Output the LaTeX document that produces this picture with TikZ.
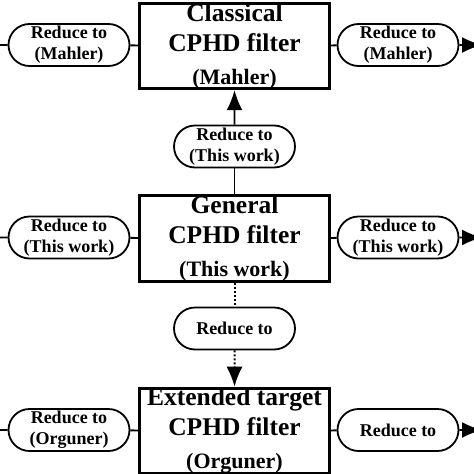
\documentclass[tikz,border=0pt]{standalone}
\usepackage{fontspec}
\setmainfont{Liberation Serif}
\usetikzlibrary{shapes.misc,arrows.meta}

\tikzset{
  filterbox/.style={draw,line width=3pt,rectangle,minimum width=190pt,minimum height=82pt,
    inner sep=0pt,align=center,font=\bfseries\fontsize{25.5}{30}\selectfont},
  reducepill/.style={draw,line width=1.8pt,rounded rectangle,minimum width=121pt,minimum height=42pt,
    inner sep=0pt,align=center,font=\bfseries\fontsize{18}{21}\selectfont},
  link/.style={line width=1.8pt},
  dotlink/.style={line width=2pt,dash pattern=on 2pt off 2pt},
  bighead/.style={-{Latex[length=20pt,width=16pt]}}
}

\begin{document}
\begin{tikzpicture}[x=1pt,y=-1pt]
  \useasboundingbox (0,0) rectangle (474,474);

  % filters
  \node[filterbox] (classical) at (234.5,46) {Classical\\CPHD filter\\[3pt]{\fontsize{22}{26}\selectfont(Mahler)}};
  \node[filterbox] (general) at (234.5,238.5) {General\\CPHD filter\\[3pt]{\fontsize{22}{26}\selectfont(This work)}};
  \node[filterbox] (extended) at (234.5,431) {Extended target\\CPHD filter\\[3pt]{\fontsize{22}{26}\selectfont(Orguner)}};

  % reduction labels
  \node[reducepill] (topleft) at (69,45) {Reduce to\\(Mahler)};
  \node[reducepill] (topright) at (398,45) {Reduce to\\(Mahler)};
  \node[reducepill] (upmid) at (234.5,146.5) {Reduce to\\(This work)};
  \node[reducepill] (midleft) at (69,237.5) {Reduce to\\(This work)};
  \node[reducepill] (midright) at (398,237.5) {Reduce to\\(This work)};
  \node[reducepill] (downmid) at (234.5,328.5) {Reduce to};
  \node[reducepill] (botleft) at (69,430) {Reduce to\\(Orguner)};
  \node[reducepill] (botright) at (398,430) {Reduce to};

  % free ends at the page edges
  \coordinate (tlend) at (0,45);
  \coordinate (mlend) at (0,237.5);
  \coordinate (blend) at (0,430);
  \coordinate (trend) at (482,45);
  \coordinate (mrend) at (482,237.5);
  \coordinate (brend) at (482,430);

  \draw[link] (tlend) -- (topleft) -- (classical);
  \draw[link] (mlend) -- (midleft) -- (general);
  \draw[link] (blend) -- (botleft) -- (extended);
  \draw[link] (classical) -- (topright);
  \draw[link] (general) -- (midright);
  \draw[link] (extended) -- (botright);
  \draw[link,bighead] (topright) -- (trend);
  \draw[link,bighead] (midright) -- (mrend);
  \draw[link,bighead] (botright) -- (brend);

  \draw[link] (general) -- (upmid);
  \draw[link,bighead] (upmid) -- (classical);
  \draw[dotlink] (general) -- (downmid);
  \draw[dotlink,bighead] (downmid) -- (extended);
\end{tikzpicture}
\end{document}
